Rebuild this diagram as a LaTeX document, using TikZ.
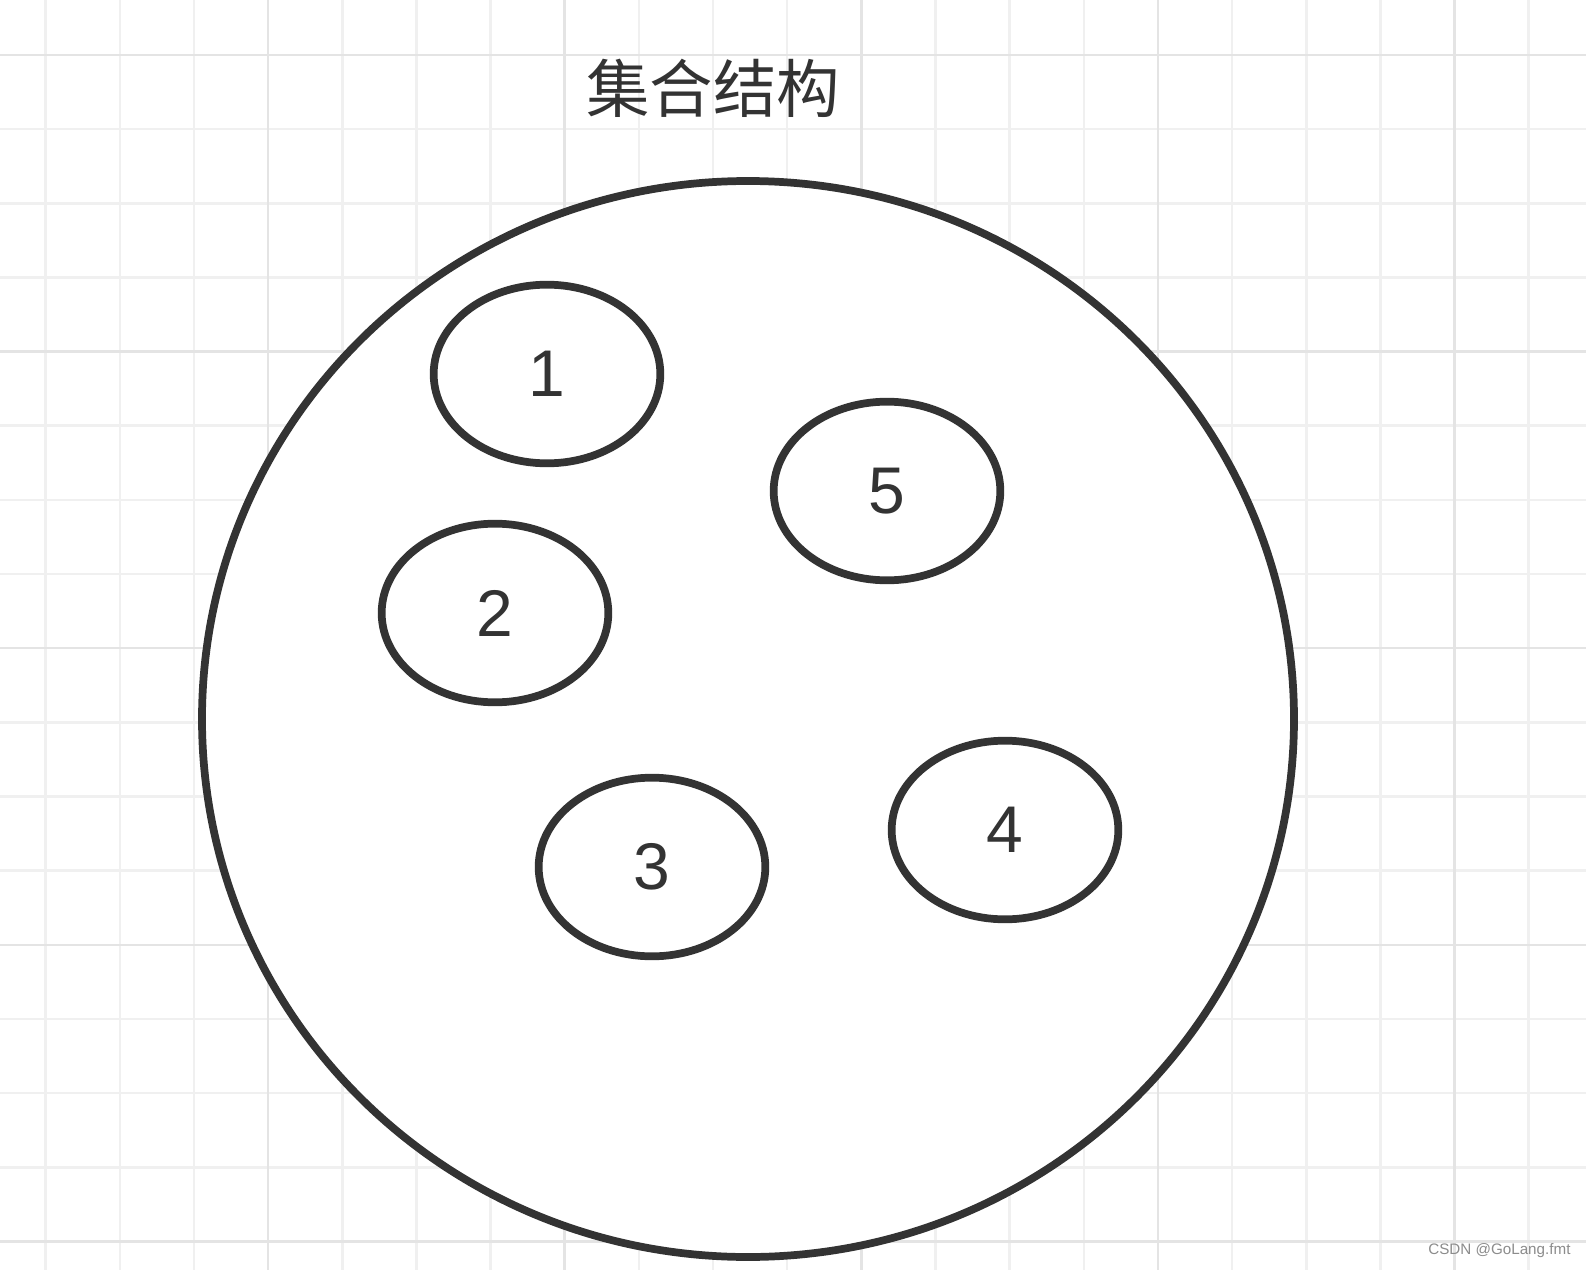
\documentclass[tikz,border=0pt]{standalone}
\usepackage{fontspec}
\setmainfont{Liberation Sans}
\newfontfamily\cjk{Noto Sans CJK SC}
\usetikzlibrary{shapes.geometric}

\definecolor{inkgray}{RGB}{51,51,51}
\definecolor{gridminor}{RGB}{240,240,240}
\definecolor{gridmajor}{RGB}{228,228,228}
\definecolor{markgray}{RGB}{140,140,140}

\tikzset{every picture/.style={line width=0.75pt}}
\tikzset{
  elem/.style={draw=inkgray, line width=5.8pt, ellipse, inner sep=0pt,
    minimum width=170pt, minimum height=134pt, text=inkgray,
    font=\fontsize{49.5}{59}\selectfont},
}

\begin{document}
\begin{tikzpicture}[x=0.75pt,y=0.75pt,yscale=-1,xscale=1]
	\useasboundingbox (0,0) rectangle (1586,1270);
	\fill[white] (0,0) rectangle (1586,1270);

	%Grid: minor lines
	\foreach \k in {0,...,20}
		\draw[gridminor, line width=1.9pt] ({45.7+74.15*\k},0) -- ({45.7+74.15*\k},1270);
	\foreach \k in {0,...,16}
		\draw[gridminor, line width=1.9pt] (0,{55+74.15*\k}) -- (1586,{55+74.15*\k});
	%Grid: major lines
	\foreach \k in {3,7,11,15,19}
		\draw[gridmajor, line width=1.9pt] ({45.7+74.15*\k},0) -- ({45.7+74.15*\k},1270);
	\foreach \k in {0,4,8,12,16}
		\draw[gridmajor, line width=1.9pt] (0,{55+74.15*\k}) -- (1586,{55+74.15*\k});

	%Shape: Ellipse [set]
	\draw[inkgray, line width=5.8pt, fill=white] (748,719) ellipse (546 and 538);

	%Shape: Ellipses [elements]
	\draw (547,374) node[elem] (e1) {1};
	\draw (495,613) node[elem] (e2) {2};
	\draw (652,867) node[elem] (e3) {3};
	\draw (1005,830) node[elem] (e4) {4};
	\draw (887,491) node[elem] (e5) {5};

	% Text Node
	\draw (713,88) node[text=inkgray, font=\cjk\fontsize{47.5}{57}\selectfont] (title) {集合结构};
	% Text Node
	\draw (1571,1251) node[anchor=east, inner sep=0pt, text=markgray, font=\fontsize{11.4}{13}\selectfont] (mark) {CSDN @GoLang.fmt};

\end{tikzpicture}
\end{document}
